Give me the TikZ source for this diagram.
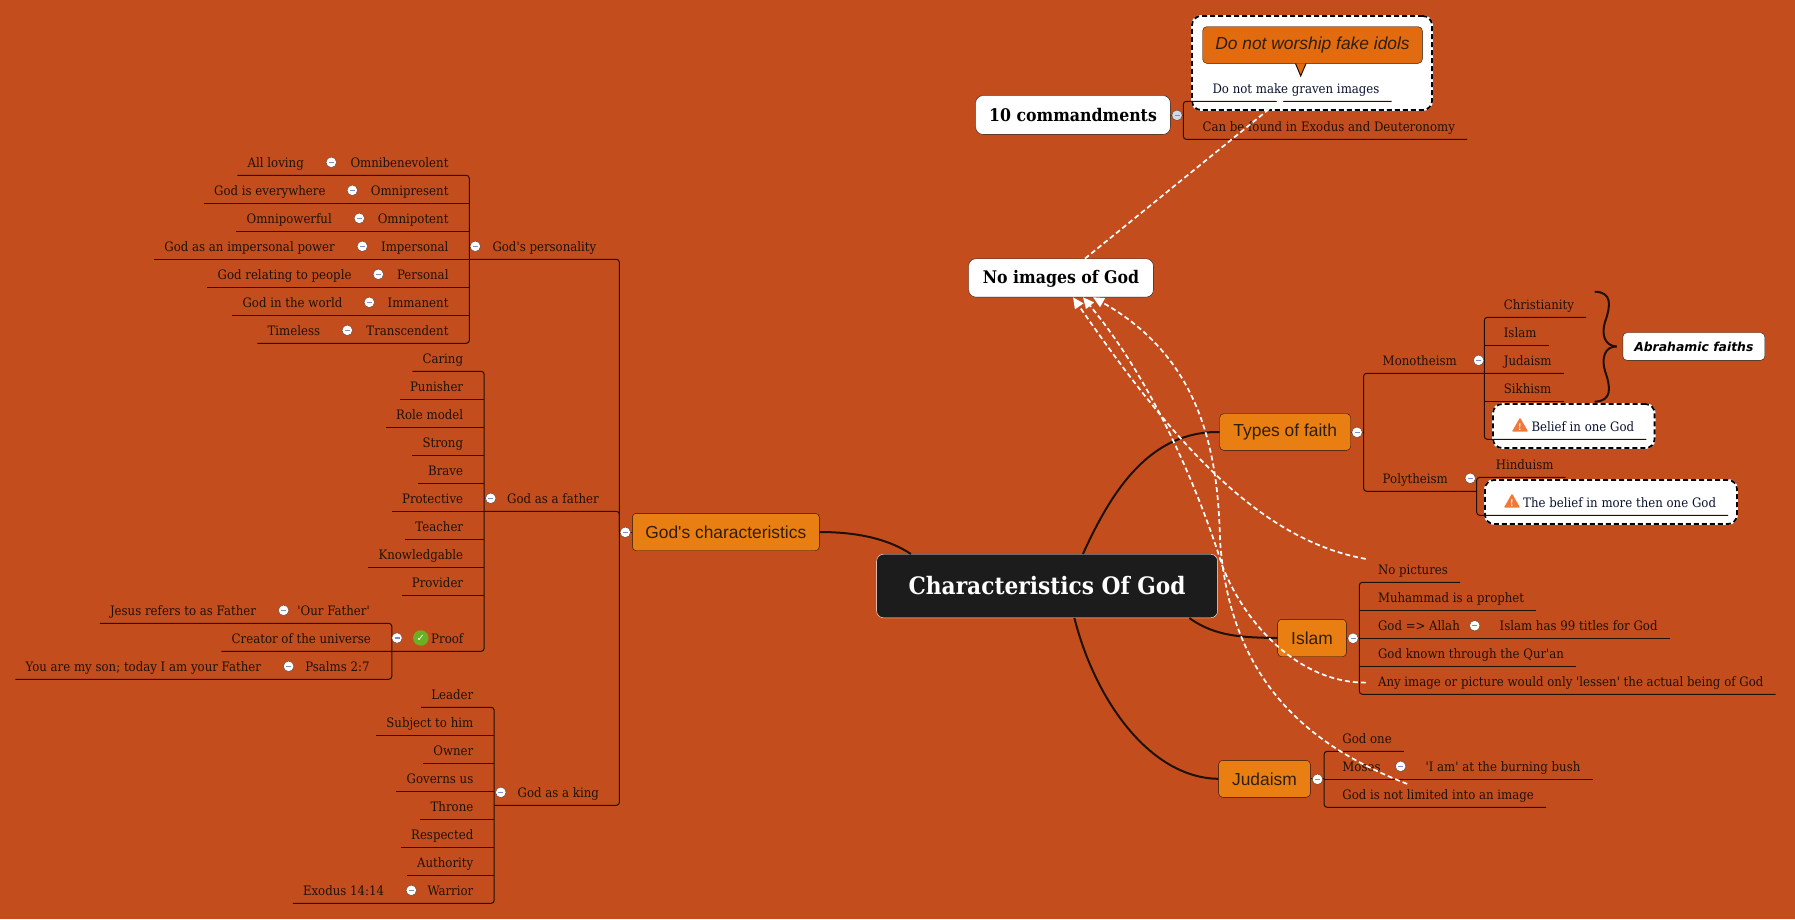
\documentclass[tikz,border=0pt]{standalone}
\usepackage{fontspec}
\usepackage{tikz}
\usetikzlibrary{arrows.meta,shapes.geometric}
\setmainfont{DejaVu Serif}[FakeStretch=0.905,Ligatures=TeXOff]
\newfontfamily\headfont{Liberation Sans}[Ligatures=TeXOff]
\newfontfamily\markfont{DejaVu Sans}
\definecolor{rust}{RGB}{196,77,29}
\definecolor{amber}{RGB}{233,127,18}
\definecolor{deepamber}{RGB}{226,107,16}
\definecolor{inkdark}{RGB}{31,17,8}
\definecolor{inkhead}{RGB}{48,30,10}
\definecolor{inknavy}{RGB}{10,18,48}
\definecolor{coal}{RGB}{28,28,28}
\definecolor{knobline}{RGB}{90,60,45}
\definecolor{knobbar}{RGB}{130,140,200}
\definecolor{warnorange}{RGB}{240,121,58}
\definecolor{leafgreen}{RGB}{106,176,35}

\begin{document}
\begin{tikzpicture}
              [x=1pt,y=-1pt,
                every node/.style={text=inkdark,font=\fontsize{13}{15}\selectfont},
                rleaf/.style={anchor=south west,inner xsep=12pt,inner ysep=5pt,text height=10pt,text depth=3pt},
                lleaf/.style={anchor=south east,inner xsep=10pt,inner ysep=5pt,text height=10pt,text depth=3pt},
                topic/.style={draw=inkdark,fill=amber,rounded corners=4pt,inner sep=0pt,text=inkhead,font=\headfont\fontsize{17.4}{21}\selectfont},
                whitebox/.style={draw=inkdark,fill=white,rounded corners=7pt,inner sep=0pt,text=black,text height=12pt,text depth=0pt,font=\bfseries\fontsize{17.4}{19}\selectfont},
                notebox/.style={draw=black,fill=white,rounded corners=9pt,line width=1.8pt,dash pattern=on 5pt off 3pt,inner sep=0pt,preaction={draw=white,solid}},
                knob/.style={circle,draw=knobline,fill=white,inner sep=0pt,minimum size=10.5pt,node contents={\textcolor{knobbar}{\rule{5pt}{1.1pt}}}},
                warnicon/.style={regular polygon,regular polygon sides=3,fill=warnorange,rounded corners=1pt,inner sep=0pt,minimum size=18pt,text=white,font=\bfseries\fontsize{9}{9}\selectfont},
                branch/.style={draw=inkdark,line width=1pt,rounded corners=3pt},
                curve/.style={draw=inkdark,line width=2pt},
                relation/.style={draw=white,line width=1.7pt,dash pattern=on 5pt off 3pt,-{Triangle[length=11pt,width=10pt,fill=white]}}]
              \fill[rust] (0,0) rectangle (1795,919);
              \useasboundingbox (0,0) rectangle (1795,919);

              \coordinate (t0) at (619.4,0);
              \coordinate (t1) at (469.3,0);
              \coordinate (t2) at (484.2,0);
              \coordinate (t3) at (391.8,0);
              \coordinate (t4) at (494.2,0);
              \coordinate (t5) at (1363.6,0);
              \coordinate (t6) at (1484.3,0);
              \coordinate (t7) at (1476.7,0);
              \coordinate (t8) at (1359.3,0);
              \coordinate (t9) at (1324.1,0);
              \coordinate (t10) at (1183.3,0);

              \node[draw=white,fill=coal,rounded corners=7pt,minimum width=341pt,minimum height=63.6pt,inner sep=0pt,text=white,font=\bfseries\fontsize{24}{26}\selectfont] (n0) at (1047.1,586) {Characteristics Of God};
              \node[topic,minimum width=187pt,minimum height=37.4pt] (n1) at (725.8,532) {God's characteristics};
              \node[topic,minimum width=131pt,minimum height=36.6pt] (n2) at (1285.2,432) {Types of faith};
              \node[topic,minimum width=68.8pt,minimum height=37.4pt] (n3) at (1312,638) {Islam};
              \node[topic,minimum width=91.7pt,minimum height=37pt] (n4) at (1264.5,778.8) {Judaism};
              \node[whitebox,minimum width=194.6pt,minimum height=38.6pt] (n5) at (1073,115) {10 commandments};
              \node[whitebox,minimum width=184.6pt,minimum height=38.3pt] (n6) at (1061,277.9) {No images of God};
              \node[draw=inkdark,fill=white,rounded corners=4pt,minimum width=141.9pt,minimum height=27.6pt,inner sep=0pt,text=black,font=\markfont\bfseries\itshape\fontsize{12.4}{14}\selectfont] (n7) at (1693.8,346.5) {Abrahamic faiths};

              \node[notebox,minimum width=240pt,minimum height=94pt] (b9) at (1312,63) {};
              \node[notebox,minimum width=161.6pt,minimum height=44pt] (b5) at (1573.8,426) {};
              \node[notebox,minimum width=252pt,minimum height=44pt] (b6) at (1611,502) {};
              \node[draw=inkdark,fill=deepamber,rounded corners=4pt,minimum width=219.6pt,minimum height=36.6pt,inner sep=0pt,text=inkhead,font=\headfont\itshape\fontsize{17.4}{21}\selectfont] (n93) at (1312.5,45) {Do not worship fake idols};

              \node[rleaf] (n10) at (480.3,259.3) {God's personality};
              \node[lleaf] (n11) at (458.7,175.3) {Omnibenevolent};
              \node[lleaf] (n11a) at (314,175.3) {All loving};
              \node[lleaf] (n12) at (458.7,203.3) {Omnipresent};
              \node[lleaf] (n12a) at (335.7,203.3) {God is everywhere};
              \node[lleaf] (n13) at (458.7,231.3) {Omnipotent};
              \node[lleaf] (n13a) at (342,231.3) {Omnipowerful};
              \node[lleaf] (n14) at (458.7,259.3) {Impersonal};
              \node[lleaf] (n14a) at (345,259.3) {God as an impersonal power};
              \node[lleaf] (n15) at (458.7,287.3) {Personal};
              \node[lleaf] (n15a) at (361.7,287.3) {God relating to people};
              \node[lleaf] (n16) at (458.7,315.3) {Immanent};
              \node[lleaf] (n16a) at (352.7,315.3) {God in the world};
              \node[lleaf] (n17) at (458.7,343.3) {Transcendent};
              \node[lleaf] (n17a) at (330.3,343.3) {Timeless};

              \node[rleaf] (n20) at (495,511.3) {God as a father};
              \node[lleaf] (n21) at (473.3,371.3) {Caring};
              \node[lleaf] (n22) at (473.3,399.3) {Punisher};
              \node[lleaf] (n23) at (473.3,427.3) {Role model};
              \node[lleaf] (n24) at (473.3,455.3) {Strong};
              \node[lleaf] (n25) at (473.3,483.3) {Brave};
              \node[lleaf] (n26) at (473.3,511.3) {Protective};
              \node[lleaf] (n27) at (473.3,539.3) {Teacher};
              \node[lleaf] (n28) at (473.3,567.3) {Knowledgable};
              \node[lleaf] (n29) at (473.3,595.3) {Provider};
              \node[lleaf] (n2a) at (473.5,651.3) {Proof};
              \node[lleaf] (n2b) at (381,651.3) {Creator of the universe};
              \node[lleaf] (n2c) at (380,623.3) {'Our Father'};
              \node[lleaf] (n2d) at (266.2,623.3) {Jesus refers to as Father};
              \node[lleaf] (n2e) at (379.8,679.3) {Psalms 2:7};
              \node[lleaf] (n2f) at (271.2,679.3) {You are my son; today I am your Father};

              \node[rleaf] (n30) at (505.4,805.3) {God as a king};
              \node[lleaf] (n31) at (483.5,707.3) {Leader};
              \node[lleaf] (n32) at (483.5,735.3) {Subject to him};
              \node[lleaf] (n33) at (483.5,763.3) {Owner};
              \node[lleaf] (n34) at (483.5,791.3) {Governs us};
              \node[lleaf] (n35) at (483.5,819.3) {Throne};
              \node[lleaf] (n36) at (483.5,847.3) {Respected};
              \node[lleaf] (n37) at (483.5,875.3) {Authority};
              \node[lleaf] (n38) at (483.5,903.3) {Warrior};
              \node[lleaf] (n38a) at (394.3,903.3) {Exodus 14:14};

              \node[rleaf] (n50) at (1370.5,373.3) {Monotheism};
              \node[rleaf] (n51) at (1491.6,317.3) {Christianity};
              \node[rleaf] (n52) at (1491.6,345.3) {Islam};
              \node[rleaf] (n53) at (1491.6,373.3) {Judaism};
              \node[rleaf] (n54) at (1491.6,401.3) {Sikhism};
              \node[rleaf,text=inknavy] (n55) at (1519.3,439.3) {Belief in one God};
              \node[rleaf] (n60) at (1370.5,491.3) {Polytheism};
              \node[rleaf] (n61) at (1483.6,477.3) {Hinduism};
              \node[rleaf,text=inknavy] (n62) at (1511,515.3) {The belief in more then one God};

              \node[rleaf] (n71) at (1365.8,582.3) {No pictures};
              \node[rleaf] (n72) at (1365.8,610.3) {Muhammad is a prophet};
              \node[rleaf] (n73) at (1365.8,638.3) {God => Allah};
              \node[rleaf] (n73a) at (1487.4,638.3) {Islam has 99 titles for God};
              \node[rleaf] (n74) at (1365.8,666.3) {God known through the Qur'an};
              \node[rleaf] (n75) at (1365.8,694.3) {Any image or picture would only 'lessen' the actual being of God};

              \node[rleaf] (n81) at (1330.2,751.3) {God one};
              \node[rleaf] (n82) at (1330.2,779.3) {Moses};
              \node[rleaf] (n82a) at (1413.3,779.3) {'I am' at the burning bush};
              \node[rleaf] (n83) at (1330.2,807.3) {God is not limited into an image};

              \node[rleaf,text=inknavy] (n91) at (1200.3,101.3) {Do not make graven images};
              \node[rleaf] (n92) at (1190.3,139.3) {Can be found in Exodus and Deuteronomy};

              \node[warnicon] (w5) at (1520,427) {!};
              \node[warnicon] (w6) at (1512,503) {!};
              \node[circle,fill=leafgreen,inner sep=0pt,minimum size=15.5pt,text=white,font=\markfont\bfseries\fontsize{10}{10}\selectfont] (c2) at (420.8,638) {✓};

              \draw[curve] ([xshift=34.5pt]n0.north west) .. controls (890,540) and (860,532) .. (n1.east);
              \draw[curve] ([xshift=206.5pt]n0.north west) .. controls (1112,490) and (1150,431) .. (n2.west);
              \draw[curve] ([xshift=313pt]n0.south west) .. controls (1215,637) and (1245,637.5) .. (n3.west);
              \draw[curve] ([xshift=198pt]n0.south west) .. controls (1095,700) and (1150,778) .. (n4.west);

              \draw[branch] (n11a.south west) -| (t1 |- n17a.south) -- (n17a.south west);
              \draw[branch] (n12a.south west) -- (t1 |- n12a.south);
              \draw[branch] (n13a.south west) -- (t1 |- n13a.south);
              \draw[branch] (n14a.south west) -- (t1 |- n14a.south);
              \draw[branch] (n15a.south west) -- (t1 |- n15a.south);
              \draw[branch] (n16a.south west) -- (t1 |- n16a.south);

              \draw[branch] (t1 |- n10.south) -| (t0 |- n30.south) -- (t4 |- n30.south);
              \draw[branch] (t2 |- n20.south) -| (t0 |- n1.west);
              \draw[branch] (n1.west) -- (t0 |- n1.west);

              \draw[branch] (n21.south west) -| (t2 |- n2a.south) -- (n2b.south west);
              \draw[branch] (n22.south west) -- (t2 |- n22.south);
              \draw[branch] (n23.south west) -- (t2 |- n23.south);
              \draw[branch] (n24.south west) -- (t2 |- n24.south);
              \draw[branch] (n25.south west) -- (t2 |- n25.south);
              \draw[branch] (n26.south west) -- (t2 |- n26.south);
              \draw[branch] (n27.south west) -- (t2 |- n27.south);
              \draw[branch] (n28.south west) -- (t2 |- n28.south);
              \draw[branch] (n29.south west) -- (t2 |- n29.south);
              \draw[branch] (n2d.south west) -| (t3 |- n2f.south) -- (n2f.south west);

              \draw[branch] (n31.south west) -| (t4 |- n38a.south) -- (n38a.south west);
              \draw[branch] (n32.south west) -- (t4 |- n32.south);
              \draw[branch] (n33.south west) -- (t4 |- n33.south);
              \draw[branch] (n34.south west) -- (t4 |- n34.south);
              \draw[branch] (n35.south west) -- (t4 |- n35.south);
              \draw[branch] (n36.south west) -- (t4 |- n36.south);
              \draw[branch] (n37.south west) -- (t4 |- n37.south);

              \draw[branch] (n2.east) -- (t5 |- n2.east);
              \draw[branch] (n53.south east) -| (t5 |- n60.south) -- (t7 |- n60.south);
              \draw[branch] (n51.south east) -| (t6 |- n55.south) -- (n55.south east);
              \draw[branch] (n52.south east) -- (t6 |- n52.south);
              \draw[branch] (n54.south east) -- (t6 |- n54.south);
              \draw[branch] (n61.south east) -| (t7 |- n62.south) -- (n62.south east);

              \draw[branch] (n3.east) -- (t8 |- n3.east);
              \draw[branch] (n71.south east) -| (t8 |- n75.south) -- (n75.south east);
              \draw[branch] (n72.south east) -- (t8 |- n72.south);
              \draw[branch] (n73a.south east) -- (t8 |- n73a.south);
              \draw[branch] (n74.south east) -- (t8 |- n74.south);

              \draw[branch] (n4.east) -- (t9 |- n4.east);
              \draw[branch] (n81.south east) -| (t9 |- n83.south) -- (n83.south east);
              \draw[branch] (n82a.south east) -- (t9 |- n82a.south);

              \draw[branch] (n5.east) -- (t10 |- n5.east);
              \draw[branch] (n91.south east) -| (t10 |- n92.south) -- (n92.south east);

              \node (k1) at (625.3,532.3) [knob];
              \node (k10) at (475.3,246.3) [knob];
              \node (k11) at (331.3,162.3) [knob];
              \node (k12) at (352.3,190.3) [knob];
              \node (k13) at (359.3,218.3) [knob];
              \node (k14) at (362.3,246.3) [knob];
              \node (k15) at (378.3,274.3) [knob];
              \node (k16) at (369.3,302.3) [knob];
              \node (k17) at (347.3,330.3) [knob];
              \node (k20) at (490.7,498.3) [knob];
              \node (k2a) at (397,638) [knob];
              \node (k2c) at (283.6,610.3) [knob];
              \node (k2e) at (288.6,666.3) [knob];
              \node (k30) at (500.8,792.3) [knob];
              \node (k38) at (411.3,890.3) [knob];
              \node (k2) at (1357,432.3) [knob];
              \node (k50) at (1478.6,360.3) [knob];
              \node (k60) at (1470.2,478.3) [knob];
              \node (k3) at (1353,638.3) [knob];
              \node (k73) at (1474.7,625.7) [knob];
              \node (k4) at (1317.5,779.3) [knob];
              \node (k82) at (1400.6,766.3) [knob];
              \node (k5) at (1177,115.3) [knob,fill=knobbar!35];

              \draw[draw=inkdark,fill=deepamber,line width=1pt] ([xshift=-17pt]n93.south) -- (1300.7,76) -- ([xshift=-6.5pt]n93.south);
              \draw[inkdark,line width=2pt,line join=round] ([xshift=-6pt]n7.west) .. controls (1605,346) and (1601,335) .. (1605,322) .. controls (1611,305) and (1612,292) .. (1594.7,291.7);
              \draw[inkdark,line width=2pt,line join=round] ([xshift=-6pt]n7.west) .. controls (1605,346) and (1601,358) .. (1605,371) .. controls (1611,388) and (1612,401) .. (1594.7,401.7);

              \draw[relation] (n71.north west) .. controls (1260,540) and (1175,445) .. ([xshift=12pt]n6.south);
              \draw[relation] (n75.west) .. controls (1300,683) and (1245,625) .. (1222,565) .. controls (1205,510) and (1160,390) .. ([xshift=22pt]n6.south);
              \draw[relation] ([xshift=77pt]n83.north west) .. controls (1320,750) and (1230,690) .. (1220,540) .. controls (1218,460) and (1205,360) .. ([xshift=32pt]n6.south);
              \draw[relation] ([xshift=24pt]n6.north) -- ([xshift=-10pt,yshift=6pt]n91.south);
            \end{tikzpicture}
\end{document}
